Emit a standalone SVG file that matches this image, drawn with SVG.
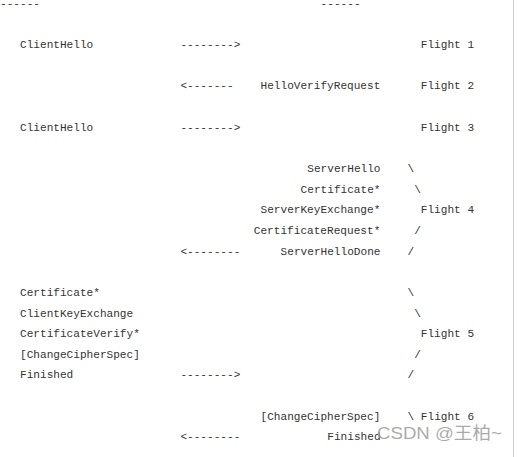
<svg xmlns="http://www.w3.org/2000/svg" width="517" height="457" viewBox="0 0 517 457">
  <style>
    .t { font-family: "Liberation Mono", "DejaVu Sans Mono", monospace; font-size: 11.1px; fill: #333333; white-space: pre; }
    .wm { font-family: "Liberation Sans", "Noto Sans CJK SC", sans-serif; font-size: 17px; fill: #9a9a9a; fill-opacity: 0.85; }
  </style>
  <rect x="0" y="0" width="517" height="457" fill="#ffffff"/>
  <line x1="513.5" y1="0" x2="513.5" y2="457" stroke="#cfcfcf" stroke-width="1"/>

  <g id="header">
    <text class="t" x="0" y="6.5">------</text>
    <text class="t" x="320.6" y="6.5">------</text>
  </g>

  <g id="flight1">
    <text class="t" x="20" y="48">ClientHello</text>
    <text class="t" x="420.8" y="48">Flight 1</text>
  </g>

  <g id="flight2">
    <text class="t" x="260.5" y="89.3">HelloVerifyRequest</text>
    <text class="t" x="420.8" y="89.3">Flight 2</text>
  </g>

  <g id="flight3">
    <text class="t" x="20" y="130.6">ClientHello</text>
    <text class="t" x="420.8" y="130.6">Flight 3</text>
  </g>

  <g id="flight4">
    <text class="t" x="307.3" y="171.9">ServerHello</text>
    <text class="t" x="407.5" y="171.9">\</text>
    <text class="t" x="300.6" y="192.6">Certificate*</text>
    <text class="t" x="414.2" y="192.6">\</text>
    <text class="t" x="260.5" y="213.2">ServerKeyExchange*</text>
    <text class="t" x="420.8" y="213.2">Flight 4</text>
    <text class="t" x="253.8" y="233.9">CertificateRequest*</text>
    <text class="t" x="414.2" y="233.9">/</text>
    <text class="t" x="280.6" y="254.5">ServerHelloDone</text>
    <text class="t" x="407.5" y="254.5">/</text>
  </g>

  <g id="flight5">
    <text class="t" x="20" y="295.8">Certificate*</text>
    <text class="t" x="407.5" y="295.8">\</text>
    <text class="t" x="20" y="316.5">ClientKeyExchange</text>
    <text class="t" x="414.2" y="316.5">\</text>
    <text class="t" x="20" y="337.1">CertificateVerify*</text>
    <text class="t" x="420.8" y="337.1">Flight 5</text>
    <text class="t" x="20" y="357.8">[ChangeCipherSpec]</text>
    <text class="t" x="414.2" y="357.8">/</text>
    <text class="t" x="20" y="378.4">Finished</text>
    <text class="t" x="407.5" y="378.4">/</text>
  </g>

  <g id="flight6">
    <text class="t" x="260.5" y="419.7">[ChangeCipherSpec]</text>
    <text class="t" x="407.5" y="419.7">\ Flight 6</text>
    <text class="t" x="327.3" y="440.4">Finished</text>
  </g>

  <g id="connectors">
    <text class="t" x="180.4" y="48">--------&gt;</text>
    <text class="t" x="180.4" y="89.3">&lt;-------</text>
    <text class="t" x="180.4" y="130.6">--------&gt;</text>
    <text class="t" x="180.4" y="254.5">&lt;--------</text>
    <text class="t" x="180.4" y="378.4">--------&gt;</text>
    <text class="t" x="180.4" y="440.4">&lt;--------</text>
  </g>

  <text class="wm" x="377" y="439" textLength="125" lengthAdjust="spacingAndGlyphs">CSDN @王柏~</text>
</svg>
